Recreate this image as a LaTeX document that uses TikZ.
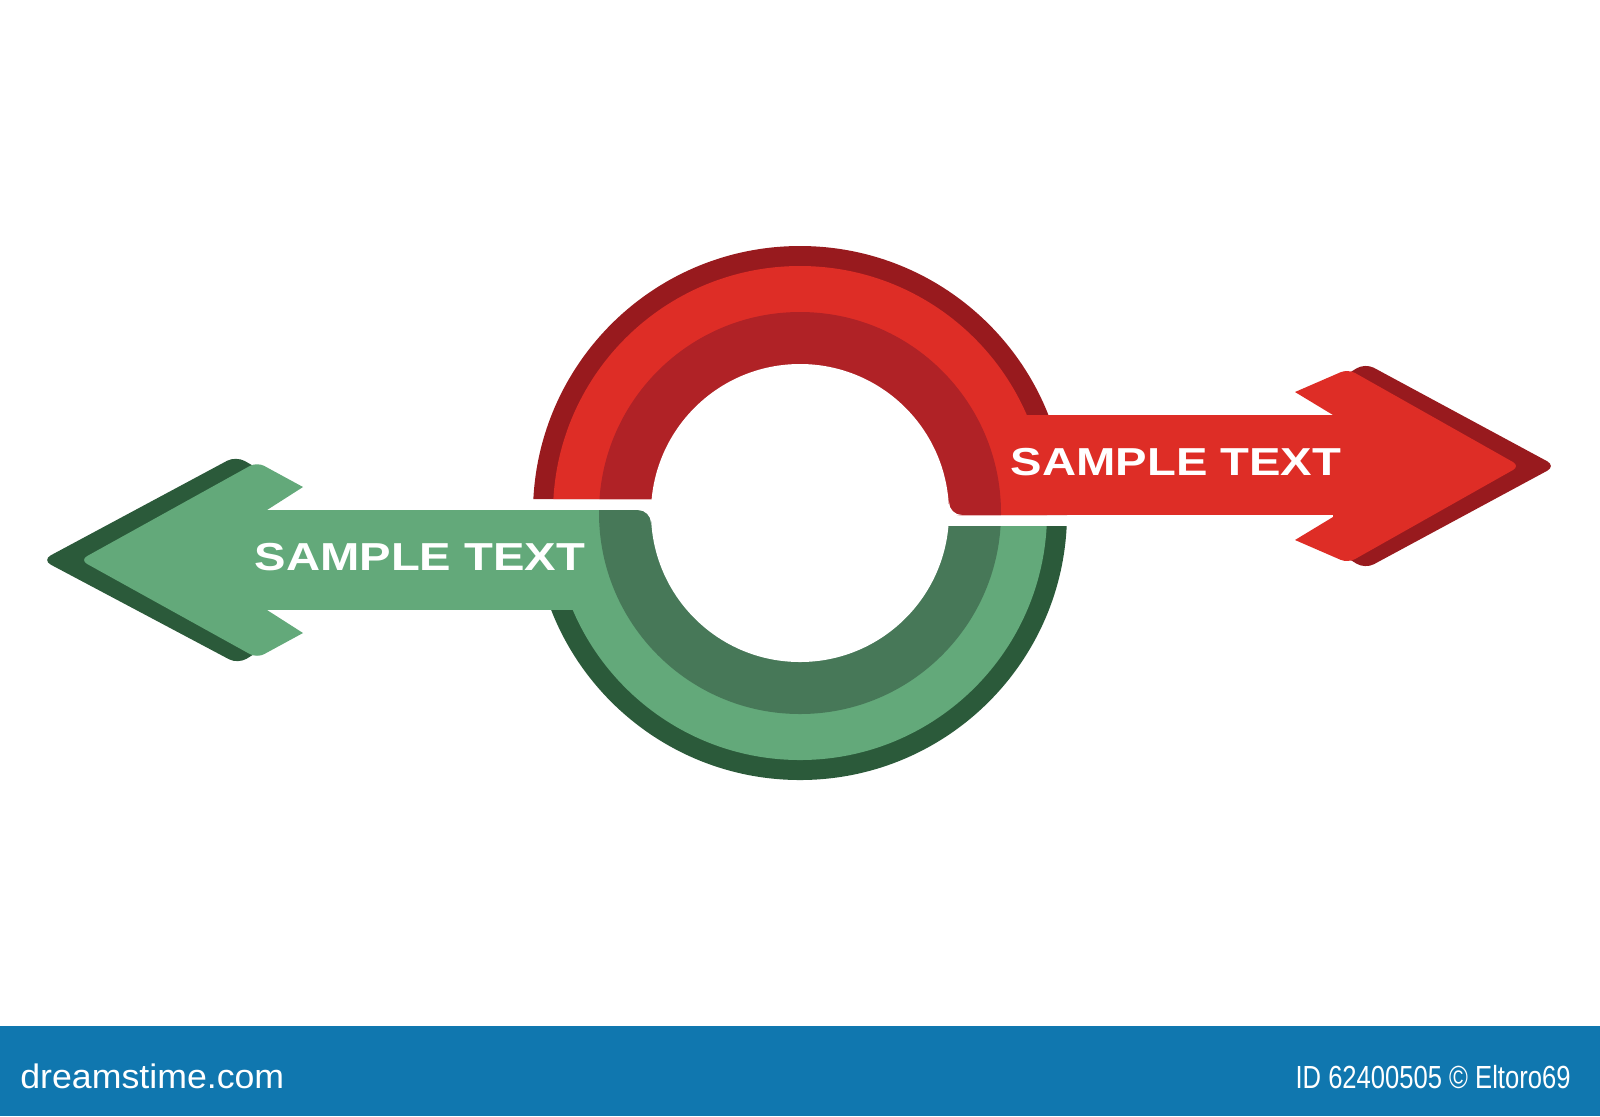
\documentclass[tikz,border=0pt]{standalone}
\usepackage{fontspec}
\setmainfont{Liberation Sans}
\usepackage{graphicx}
\definecolor{rdark}{RGB}{152,26,30}
\definecolor{rbright}{RGB}{222,45,38}
\definecolor{rmed}{RGB}{176,34,38}
\definecolor{gdark}{RGB}{43,90,58}
\definecolor{glight}{RGB}{99,169,122}
\definecolor{gmed}{RGB}{71,120,88}
\definecolor{barblue}{RGB}{16,119,175}
\tikzset{
  labeltext/.style={text=white,font=\fontsize{19.5}{20}\selectfont\bfseries,inner sep=0pt},
  bartext/.style={text=white,inner sep=0pt},
  headround/.style={rounded corners=5pt}
}
\begin{document}
\begin{tikzpicture}[x=0.5pt,y=-0.5pt]
\useasboundingbox (0,0) rectangle (1600,1116);
\fill[white] (0,0) rectangle (1600,1116);

% ---------- green arrow head (dark shadow) ----------
\fill[gdark,headround] (264,472) -- (236,456) -- (42,560) -- (238,664) -- (264,648) -- cycle;
% ---------- red arrow head (dark shadow) ----------
\fill[rdark,headround] (1338,380) -- (1365,363) -- (1556,466) -- (1365,569) -- (1338,552) -- cycle;

% ---------- green ring + shaft ----------
\begin{scope}
  \clip (0,1116) -- (0,510) -- (800,510) -- (800,526) -- (1600,526) -- (1600,1116) -- cycle;
  \fill[gdark] (800,513) circle (267);
  \fill[glight] (800,513) circle (247);
  \fill[glight] (260,510) rectangle (640,610);
  \fill[gmed] (800,513) circle (201);
\end{scope}

% ---------- red ring + shaft ----------
\begin{scope}
  \clip (0,0) -- (1600,0) -- (1600,515) -- (800,515) -- (800,499) -- (0,499) -- cycle;
  \fill[rdark] (800,513) circle (267);
  \fill[rbright] (800,513) circle (247);
  \fill[rbright] (990,415) rectangle (1340,515);
  \fill[rmed] (800,513) circle (201);
\end{scope}

% ---------- hole ----------
\fill[white] (800,513) circle (149);
% fillets
\fill[white] (949,502) arc (180:90:13) -- (948,517) -- cycle;
\fill[white] (638,510) arc (270:360:13) -- (652,508) -- cycle;

% ---------- light arrow heads ----------
\fill[glight] (267,510) -- (303,487) [rounded corners=4pt] -- (257,462) -- (80,560) -- (257,658) [sharp corners] -- (303,633) -- (267,610) -- cycle;
\fill[rbright] (1333,415) -- (1295,392) [rounded corners=4pt] -- (1348,369) -- (1520,466) -- (1348,563) [sharp corners] -- (1295,540) -- (1333,517) -- cycle;

% ---------- labels ----------
\node[labeltext] (gtext) at (420,557) {\scalebox{1.21}[1]{SAMPLE TEXT}};
\node[labeltext] (rtext) at (1176,462) {\scalebox{1.21}[1]{SAMPLE TEXT}};

% ---------- bottom bar ----------
\fill[barblue] (0,1026) rectangle (1600,1116);
\node[bartext,anchor=base west,font=\fontsize{17}{18}\selectfont] (logo) at (20,1088) {\scalebox{1.05}[1]{dreamstime.com}};
\node[bartext,anchor=base east,font=\fontsize{16}{18}\selectfont] (id) at (1571,1088) {\scalebox{0.8}[1]{ID 62400505 © Eltoro69}};
\end{tikzpicture}
\end{document}
